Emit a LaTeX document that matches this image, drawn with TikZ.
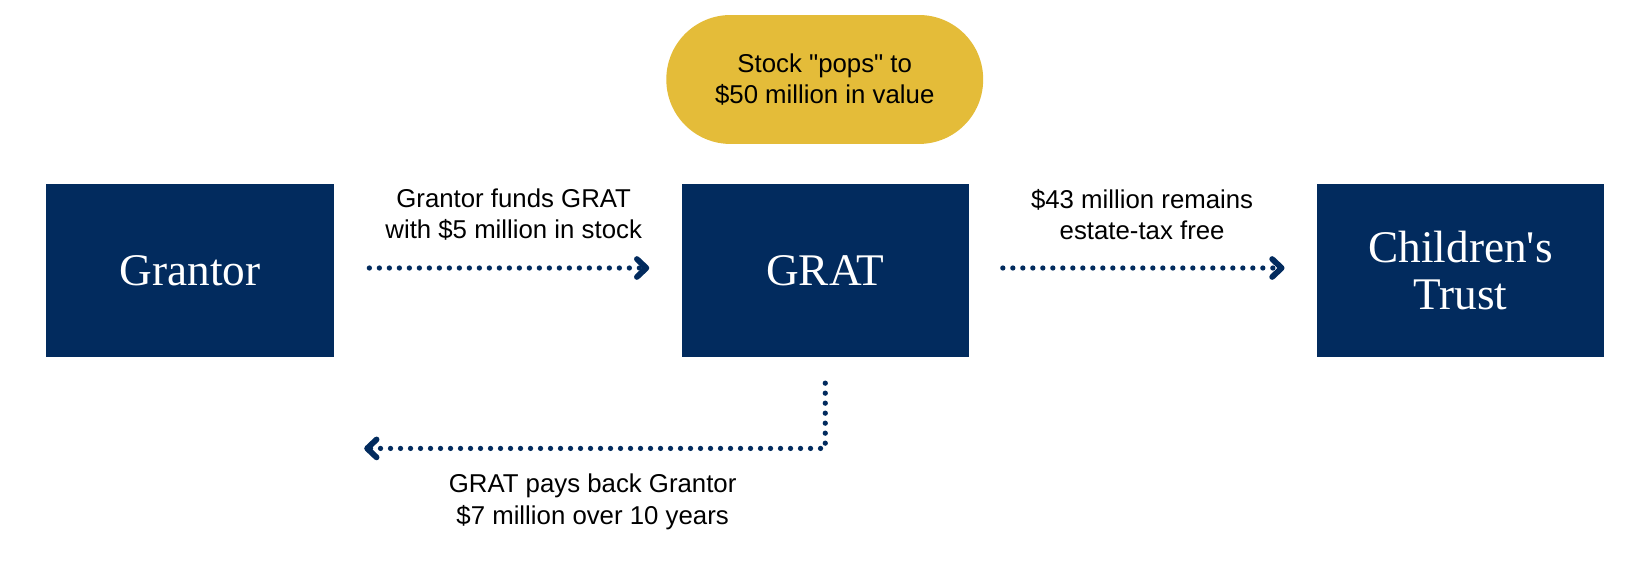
\documentclass[tikz,border=0pt]{standalone}
\usepackage{fontspec}
\setmainfont{Liberation Serif}[Ligatures=TeXOff]
\setsansfont{Liberation Sans}[Ligatures=TeXOff]
\usetikzlibrary{arrows.meta}
\definecolor{navy}{HTML}{022B5E}
\definecolor{gold}{HTML}{E4BC39}
\tikzset{
  entity/.style={fill=navy, minimum width=273pt, minimum height=164pt, inner sep=0pt,
    text=white, align=center, font=\fontsize{43}{45}\selectfont\rmfamily},
  pill/.style={fill=gold, rounded corners=61pt, minimum width=301pt, minimum height=122.5pt,
    inner sep=0pt, align=center, font=\fontsize{24.5}{30}\selectfont\sffamily},
  lbl/.style={align=center, font=\fontsize{24.5}{30}\selectfont\sffamily, inner sep=0pt},
  dotline/.style={navy, line width=5pt, line cap=round, dash pattern=on 0pt off 9.5pt,
    -{Straight Barb[length=9pt, width=17pt, line width=5.5pt, round]}},
}
\begin{document}
\begin{tikzpicture}[x=1pt,y=-1pt]
\useasboundingbox (0,0) rectangle (1567.5,541.5);
\node[entity] (grantor) at (180.5,257) {Grantor};
\node[entity] (grat) at (784,257) {GRAT};
\node[entity] (trust) at (1387.5,257) {Children's\\Trust};
\node[pill] (pops) at (783.5,75.5) {Stock "pops" to\\\$50 million in value};
\node[lbl] (l1) at (488,204) {Grantor funds GRAT\\with \$5 million in stock};
\node[lbl] (l2) at (1085,204) {\$43 million remains\\estate-tax free};
\node[lbl] (l3) at (563,477) {GRAT pays back Grantor\\ \$7 million over 10 years};
\coordinate (elbowstart) at (784,364);
\coordinate (elbowend) at (346,426);
\draw[dotline, shorten <=33.7pt, shorten >=30.5pt] ([yshift=2.4pt]grantor.east) -- ([yshift=2.4pt]grat.west);
\draw[dotline, shorten <=32pt, shorten >=30.5pt] ([yshift=2.4pt]grat.east) -- ([yshift=2.4pt]trust.west);
\draw[dotline] (elbowstart) |- (elbowend);
\end{tikzpicture}
\end{document}
